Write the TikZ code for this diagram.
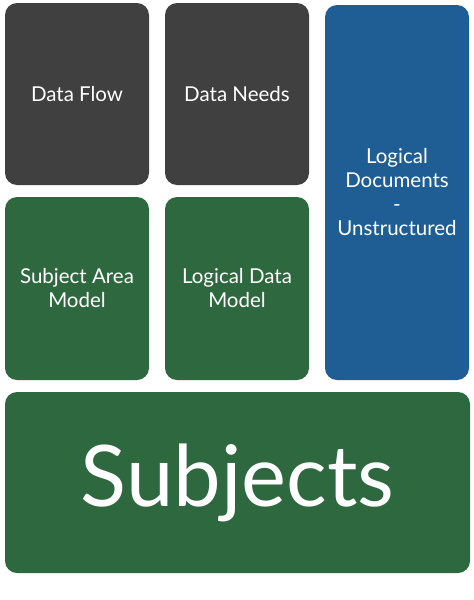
\documentclass[tikz,border=0pt]{standalone}
\usepackage{fontspec}
\setmainfont{Lato}
\definecolor{tilegray}{RGB}{64,64,64}
\definecolor{tilegreen}{RGB}{46,104,62}
\definecolor{tileblue}{RGB}{30,94,148}

\begin{document}
\begin{tikzpicture}[x=1pt,y=1pt]
\tikzstyle{every node}+=[inner sep=0pt]
\tikzset{tile/.style={rounded corners=12pt, text=white, align=center, minimum width=144pt, font=\fontsize{20.5}{24}\selectfont}}
\useasboundingbox (0,0) rectangle (474,-600);
% top row
\node [tile, fill=tilegray, minimum height=182pt] (flow) at (77,-94) {Data Flow};
\node [tile, fill=tilegray, minimum height=182pt] (needs) at (237,-94) {Data Needs};
% middle row
\node [tile, fill=tilegreen, minimum height=183pt] (area) at (77,-288.5) {Subject Area\\Model};
\node [tile, fill=tilegreen, minimum height=183pt] (ldm) at (237,-288.5) {Logical Data\\Model};
% right column
\node [tile, fill=tileblue, minimum height=375pt] (docs) at (397,-192.5) {Logical\\Documents\\-\\Unstructured};
% base
\node [tile, fill=tilegreen, minimum width=465pt, minimum height=181pt, font=\fontsize{85}{90}\selectfont] (subj) at (237.5,-482.5) {Subjects};
\end{tikzpicture}
\end{document}
